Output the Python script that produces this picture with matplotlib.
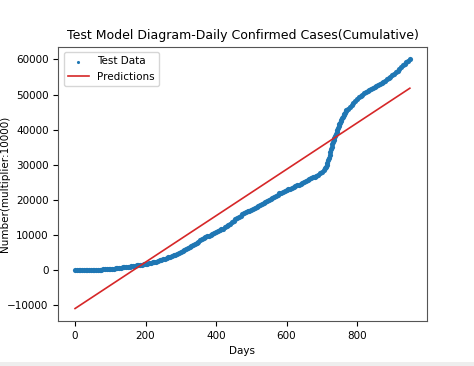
import matplotlib
matplotlib.use("Agg")
import matplotlib.pyplot as plt
from matplotlib.patches import Rectangle

# Days sampled: every 5 days up to 710, every 2 days through the steep rise, then every 5 days
test_days = list(range(0, 711, 5)) + list(range(712, 771, 2)) + list(range(775, 951, 5))
test_values = [
    0, 0, 0, 0, 0, 0, 0, 0, 0, 0, 0, 20, 50, 80, 100, 120, 150, 200, 250, 280,
    300, 350, 400, 480, 550, 600, 650, 720, 800, 850, 900, 980, 1050, 1120, 1200, 1280, 1350, 1420, 1500, 1600,
    1700, 1800, 1900, 2020, 2150, 2270, 2400, 2550, 2700, 2850, 3000, 3200, 3400, 3600, 3800, 4000, 4200, 4400, 4600, 4850,
    5100, 5350, 5600, 5900, 6200, 6500, 6800, 7150, 7500, 7800, 8100, 8400, 8700, 9000, 9300, 9550, 9800, 10050, 10300, 10550,
    10800, 11050, 11300, 11550, 11800, 12100, 12400, 12750, 13100, 13550, 14000, 14400, 14800, 15150, 15500, 15850, 16200, 16450, 16700, 16900,
    17100, 17350, 17600, 17900, 18200, 18500, 18800, 19100, 19400, 19700, 20000, 20300, 20600, 20900, 21200, 21500, 21800, 22050, 22300, 22550,
    22800, 23000, 23200, 23450, 23700, 23900, 24100, 24350, 24600, 24800, 25000, 25250, 25500, 25800, 26100, 26350, 26600, 26900, 27200, 27600,
    28000, 28500, 29000,
    29300, 29800, 30500, 31200, 32000, 32800, 33600, 34400, 35100, 35800, 36400, 37000, 37600, 38100, 38700,
    39300, 39900, 40400, 41000, 41500, 42000, 42400, 42800, 43300, 43700, 44100, 44500, 44800, 45200, 45500,
    46000, 46500, 47100, 47700, 48200, 48700, 49200, 49650, 50000, 50300, 50650, 51000, 51300, 51600, 51850,
    52100, 52400, 52700, 53000, 53300, 53600, 53900, 54300, 54700, 55100, 55500, 55900, 56300, 56800, 57300,
    57800, 58300, 58750, 59200, 59600, 60000,
]

pred_days = [0, 950]
pred_values = [-11000, 51800]

fig = plt.figure(figsize=(4.74, 3.66), dpi=100)
ax = fig.add_axes([0.123, 0.123, 0.777, 0.7486])

ax.scatter(test_days, test_values, s=14, color="#1f77b4", label="Test Data", linewidths=0)
ax.plot(pred_days, pred_values, color="#d62728", lw=1.2, label="Predictions")

ax.set_title("Test Model Diagram-Daily Confirmed Cases(Cumulative)", fontsize=9)
ax.set_xlabel("Days", fontsize=7.5)
ax.set_ylabel("Number(multiplier:10000)", fontsize=7.5)
ax.yaxis.set_label_coords(-0.131, 0.5)
ax.tick_params(labelsize=7.5)
ax.set_xticks([0, 200, 400, 600, 800])
ax.set_yticks([-10000, 0, 10000, 20000, 30000, 40000, 50000, 60000])
for s in ax.spines.values():
    s.set_color("#555555")
ax.legend(loc="upper left", fontsize=7.5, markerscale=0.6)

fig.patches.append(Rectangle((0, 0), 1, 0.012, transform=fig.transFigure,
                             facecolor="#eeeeee", edgecolor="none"))

fig.savefig("out.png", dpi=100)
